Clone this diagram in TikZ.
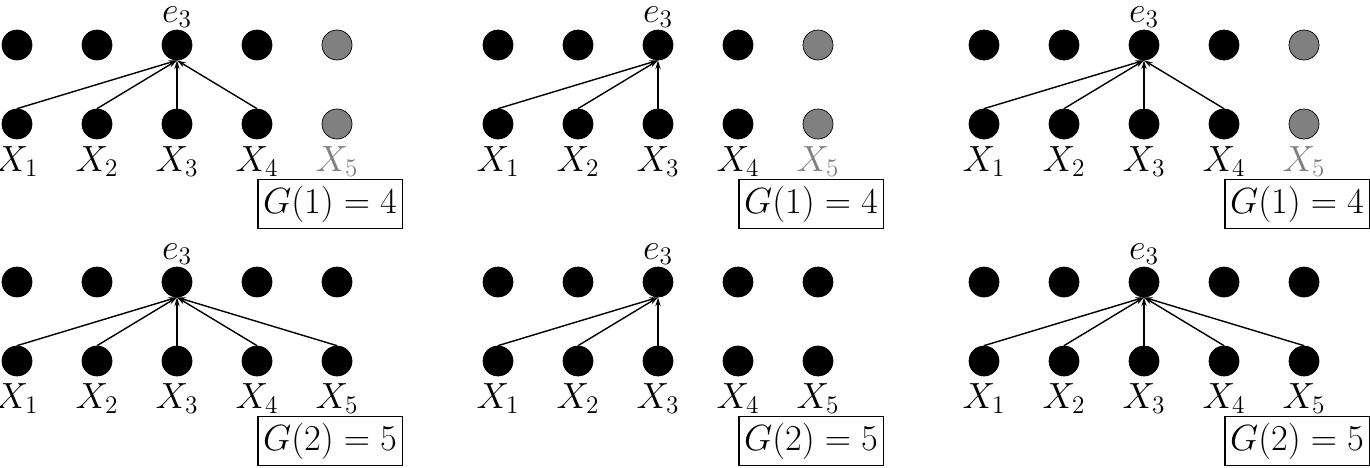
\documentclass[tikz,border=0pt]{standalone}
\usetikzlibrary{arrows.meta}
\begin{document}
\begin{tikzpicture}[x=0.02cm,y=-0.02cm,
  dot/.style={circle,draw=black,fill=black,minimum size=30*0.02cm,inner sep=0pt},
  gdot/.style={dot,fill=gray},
  lab/.style={font=\fontsize{20}{24}\selectfont},
  gbox/.style={draw,thick,font=\fontsize{20}{24}\selectfont,minimum height=49*0.02cm,minimum width=137*0.02cm,inner sep=3pt},
  edge/.style={-{Stealth[length=5pt,width=3pt]},thick}]
\useasboundingbox (0,0) rectangle (1370,467);
\foreach \r/\yo/\g/\gval in {0/0/1/4,1/237/2/5}{
 \foreach \p/\xo/\n in {0/0/4,1/481/3,2/967/4}{
  \foreach \i in {1,...,5}{
   \pgfmathsetmacro{\xx}{\xo+17+80*(\i-1)}
   \ifnum\r=0 \ifnum\i=5
     \node[gdot] (t\r\p\i) at (\xx,45+\yo) {};
     \node[gdot] (b\r\p\i) at (\xx,124+\yo) {};
     \node[lab,text=gray,anchor=north] (l\r\p\i) at (\xx,140+\yo) {$X_{\i}$};
   \else
     \node[dot] (t\r\p\i) at (\xx,45+\yo) {};
     \node[dot] (b\r\p\i) at (\xx,124+\yo) {};
     \node[lab,anchor=north] (l\r\p\i) at (\xx,140+\yo) {$X_{\i}$};
   \fi\else
     \node[dot] (t\r\p\i) at (\xx,45+\yo) {};
     \node[dot] (b\r\p\i) at (\xx,124+\yo) {};
     \node[lab,anchor=north] (l\r\p\i) at (\xx,140+\yo) {$X_{\i}$};
   \fi
  }
  \node[lab,anchor=south,inner sep=1pt] (e\r\p) at (t\r\p3.north) {$e_3$};
  \pgfmathtruncatemacro{\m}{\n+\r}
  \ifnum\p=1 \def\m{3}\fi
  \foreach \i in {1,...,\m}{\draw[edge] (b\r\p\i.north) -- (t\r\p3.south);}
  \node[gbox,anchor=north east] (g\r\p) at (\xo+403,179+\yo) {$G(\g)=\gval$};
 }
}
\end{tikzpicture}
\end{document}
